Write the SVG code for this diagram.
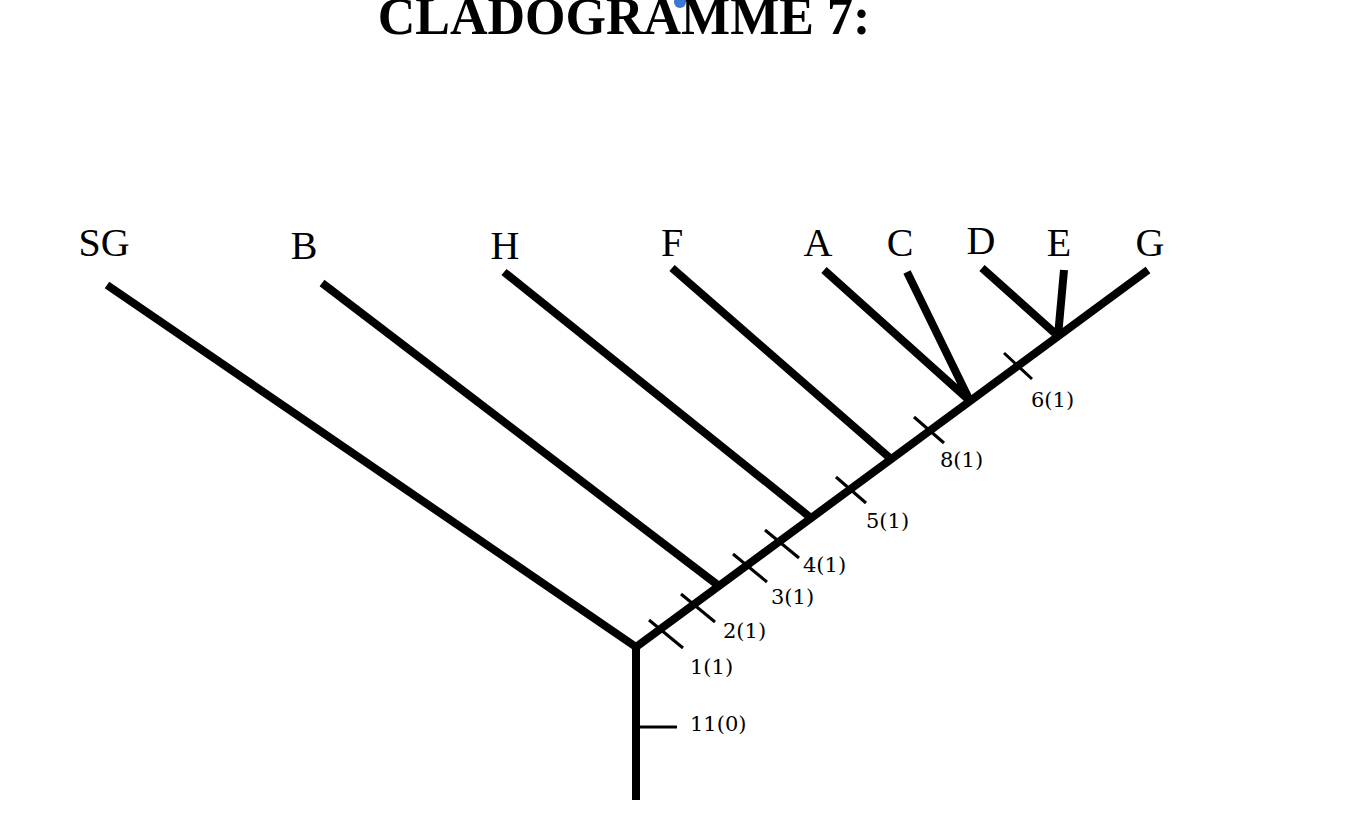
<svg xmlns="http://www.w3.org/2000/svg" width="1356" height="817" viewBox="0 0 1356 817">
<style>
.br{stroke:#000;stroke-width:8;fill:none;stroke-linecap:butt}
.tk{stroke:#000;stroke-width:3}
.tip{font-family:"Liberation Serif",serif;font-size:40px;fill:#000;text-anchor:middle}
.lb{font-family:"DejaVu Serif","Liberation Serif",serif;font-size:21px;fill:#000}
</style>
<rect width="1356" height="817" fill="#fff"/>
<text x="624" y="34" font-family="Liberation Serif,serif" font-weight="bold" font-size="52" text-anchor="middle">CLADOGRAMME 7:</text>
<circle cx="680" cy="2" r="6" fill="#3a77d6"/>
<g id="connectors">
<path class="br" d="M636,800 V647 L1148,270"/>
<path class="br" d="M107,285 L636,647"/>
<path class="br" d="M322,283 L719,586"/>
<path class="br" d="M504,272 L811,518"/>
<path class="br" d="M672,268 L891,459"/>
<path class="br" d="M824,270 L970,401 M907,272 L970,401"/>
<path class="br" d="M982,268 L1058,336 M1064,270 L1058,336"/>
<g class="tk">
<line x1="649" y1="620" x2="683" y2="648"/>
<line x1="681" y1="594" x2="715" y2="622"/>
<line x1="733" y1="554" x2="767" y2="582"/>
<line x1="765" y1="530" x2="799" y2="558"/>
<line x1="836" y1="477" x2="866" y2="503"/>
<line x1="914" y1="417" x2="944" y2="443"/>
<line x1="1004" y1="353" x2="1032" y2="379"/>
<line x1="636" y1="727" x2="677" y2="727"/>
</g>
</g>
<g id="SG"><text class="tip" x="104" y="256">SG</text></g>
<g id="B"><text class="tip" x="304" y="259">B</text></g>
<g id="H"><text class="tip" x="505" y="259">H</text></g>
<g id="F"><text class="tip" x="672" y="256">F</text></g>
<g id="A"><text class="tip" x="818" y="256">A</text></g>
<g id="C"><text class="tip" x="900" y="256">C</text></g>
<g id="D"><text class="tip" x="981" y="254">D</text></g>
<g id="E"><text class="tip" x="1059" y="256">E</text></g>
<g id="G"><text class="tip" x="1150" y="256">G</text></g>
<g id="labels">
<text class="lb" x="690" y="674">1(1)</text>
<text class="lb" x="723" y="638">2(1)</text>
<text class="lb" x="771" y="604">3(1)</text>
<text class="lb" x="803" y="572">4(1)</text>
<text class="lb" x="866" y="528">5(1)</text>
<text class="lb" x="940" y="467">8(1)</text>
<text class="lb" x="1031" y="407">6(1)</text>
<text class="lb" x="690" y="731">11(0)</text>
</g>
</svg>
